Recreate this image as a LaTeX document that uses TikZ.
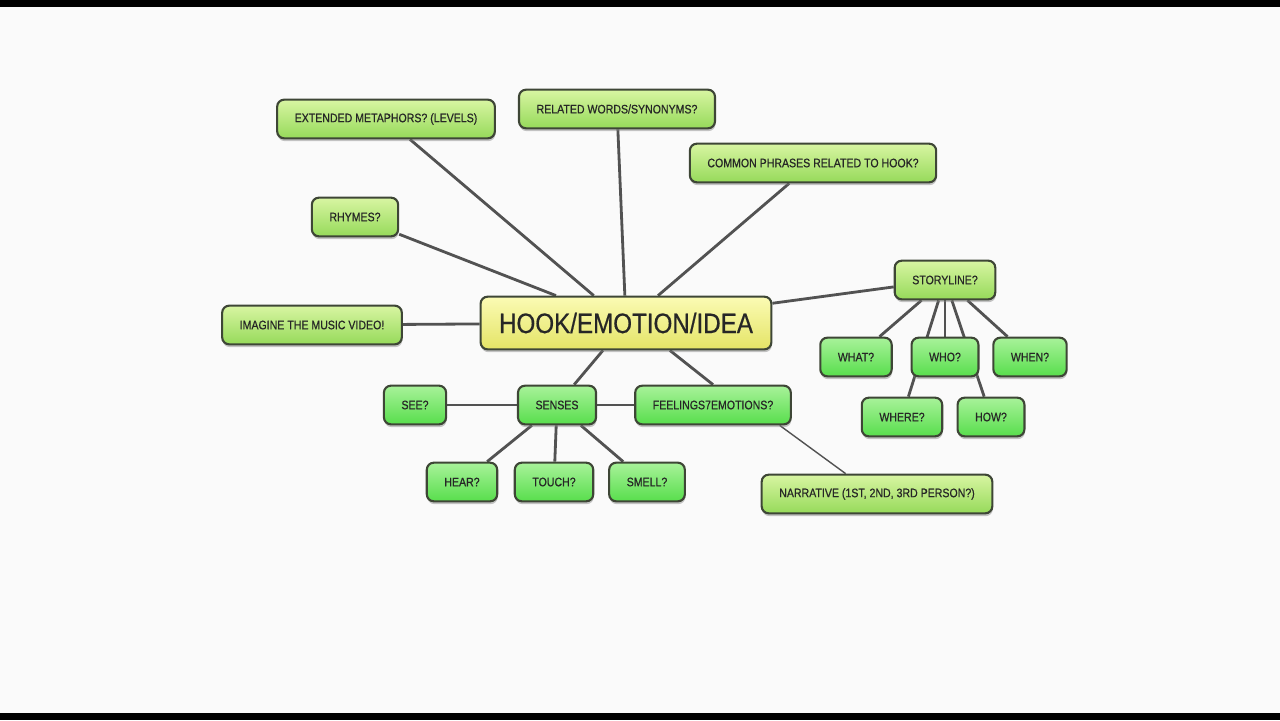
\documentclass[tikz,border=0pt]{standalone}
\usepackage{fontspec}
\setmainfont{Liberation Sans}[FakeStretch=0.86,FakeBold=0.6]
\usepackage{tikz}
\usetikzlibrary{shadows}

\definecolor{linkgray}{HTML}{525252}
\definecolor{framegray}{HTML}{3E4636}
\definecolor{pagebg}{HTML}{FAFAFA}
\definecolor{topictop}{HTML}{D8F5A2}
\definecolor{topicbot}{HTML}{96DA5A}
\definecolor{leaftop}{HTML}{A8F29A}
\definecolor{leafbot}{HTML}{58DE4C}
\definecolor{hooktop}{HTML}{FBFBB4}
\definecolor{hookbot}{HTML}{E4E466}

\pgfdeclarelayer{background}
\pgfsetlayers{background,main}

\tikzset{
  box/.style={draw=framegray, line width=1.2pt, rounded corners=4pt,
    text=black!85, font=\fontsize{7}{8}\selectfont,
    minimum height=22pt, inner xsep=10pt,
    drop shadow={shadow xshift=0.3pt, shadow yshift=-1.6pt, opacity=0.45}},
  topic/.style={box, top color=topictop, bottom color=topicbot},
  leaf/.style={box, top color=leaftop, bottom color=leafbot},
  hookbox/.style={box, top color=hooktop, bottom color=hookbot,
    font=\fontsize{16}{18}\selectfont, minimum height=30pt, inner xsep=10.5pt},
  link/.style={draw=linkgray, line width=1.6pt},
  thin link/.style={draw=linkgray, line width=0.8pt}
}

\begin{document}
\begin{tikzpicture}[x=0.02cm,y=-0.02cm]
  \useasboundingbox (0,0) rectangle (1280,720);

  % centre
  \node[hookbox] (hook) at (626,323) {HOOK/EMOTION/IDEA};

  % first ring
  \node[topic] (metaphors) at (386,119) {EXTENDED METAPHORS? (LEVELS)};
  \node[topic] (synonyms)  at (617,109) {RELATED WORDS/SYNONYMS?};
  \node[topic] (phrases)   at (813,163) {COMMON PHRASES RELATED TO HOOK?};
  \node[topic] (rhymes)    at (355,217) {RHYMES?};
  \node[topic] (video)     at (312,325) {IMAGINE THE MUSIC VIDEO!};
  \node[topic] (story)     at (945,280) {STORYLINE?};
  \node[leaf]  (senses)    at (557,405) {SENSES};
  \node[leaf]  (feelings)  at (713,405) {FEELINGS7EMOTIONS?};

  % storyline
  \node[leaf] (what)  at (856,357) {WHAT?};
  \node[leaf] (who)   at (945,357) {WHO?};
  \node[leaf] (when)  at (1030,357) {WHEN?};
  \node[leaf] (where) at (902,417) {WHERE?};
  \node[leaf] (how)   at (991,417) {HOW?};

  % senses
  \node[leaf] (see)   at (415,405) {SEE?};
  \node[leaf] (hear)  at (462,482) {HEAR?};
  \node[leaf] (touch) at (554,482) {TOUCH?};
  \node[leaf] (smell) at (647,482) {SMELL?};

  \node[topic] (narrative) at (877,494) {NARRATIVE (1ST, 2ND, 3RD PERSON?)};

  \begin{pgfonlayer}{background}
    \fill[pagebg] (0,0) rectangle (1280,720);
    \fill[black] (0,0) rectangle (1280,7);
    \fill[black] (0,713) rectangle (1280,720);

    \draw[link] (hook) -- (metaphors);
    \draw[link] (hook) -- (synonyms);
    \draw[link] (hook) -- (phrases);
    \draw[link] (hook) -- (rhymes);
    \draw[link] (hook) -- (video);
    \draw[link] (hook) -- (story);
    \draw[link] (hook) -- (senses);
    \draw[link] (hook.-32) -- (feelings.north);

    \draw[link] (story) -- (what);
    \draw[link] (story) -- (who);
    \draw[link] (story) -- (when);
    \draw[link] (story) -- (where);
    \draw[link] (story) -- (how);

    \draw[link] (senses) -- (see);
    \draw[link] (senses) -- (feelings);
    \draw[link] (senses) -- (hear);
    \draw[link] (senses) -- (touch);
    \draw[link] (senses) -- (smell);

    \draw[thin link] (feelings.-17) -- (narrative.147);
  \end{pgfonlayer}
\end{tikzpicture}
\end{document}
